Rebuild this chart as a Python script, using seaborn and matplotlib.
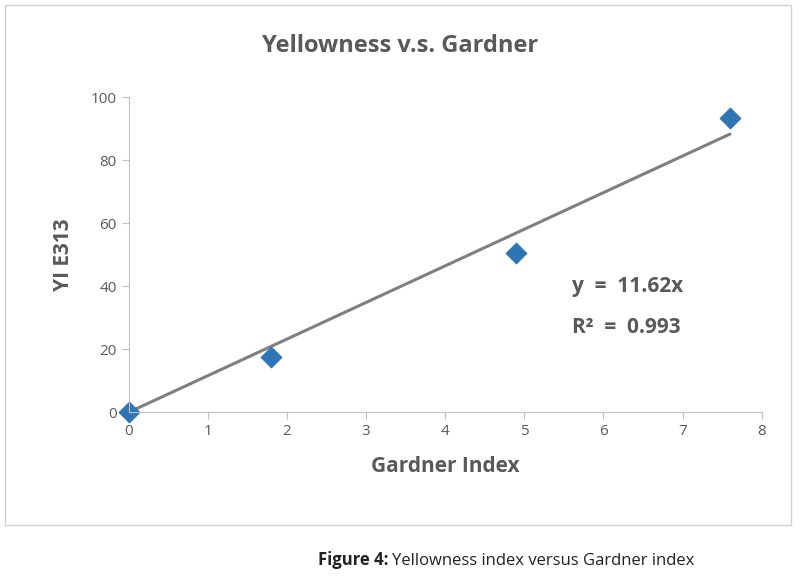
import matplotlib
matplotlib.use("Agg")
import matplotlib.pyplot as plt
import seaborn as sns
import numpy as np
from matplotlib.patches import Rectangle

gardner = [0, 1.8, 4.9, 7.6]
yi = [0, 17.5, 50.5, 93.5]
slope = 11.62
r2 = 0.993

sns.set_style("white")
plt.rcParams['font.family'] = ['Open Sans', 'DejaVu Sans']
grey = '#595959'

fig = plt.figure(figsize=(8, 5.79), dpi=100)
fig.patches.append(Rectangle((0.006, 0.093), 0.983, 0.898, transform=fig.transFigure,
                             fill=False, edgecolor='#d0d0d0', lw=1))
ax = fig.add_axes([0.161, 0.288, 0.791, 0.544])
xl = np.array([0, max(gardner)])
ax.plot(xl, slope * xl, color='#7f7f7f', lw=2.2, zorder=1)
sns.scatterplot(x=gardner, y=yi, marker='D', s=110, color='#2e75b6', edgecolor='#2e75b6', ax=ax, zorder=2, clip_on=False)
ax.set_xlim(0, 8)
ax.set_ylim(0, 100)
ax.set_xticks(range(0, 9))
ax.set_yticks(range(0, 101, 20))
for s in ['top', 'right']:
    ax.spines[s].set_visible(False)
for s in ['left', 'bottom']:
    ax.spines[s].set_color('#bfbfbf')
ax.tick_params(axis='both', colors=grey, labelsize=11, length=5, direction='out', color='#bfbfbf')
ax.tick_params(axis='x', bottom=True)
ax.tick_params(axis='y', left=True)
ax.set_xlabel('Gardner Index', fontsize=15, fontweight='bold', color=grey, labelpad=12)
ax.set_ylabel('YI E313', fontsize=15, fontweight='bold', color=grey, labelpad=12)
fig.text(0.5, 0.91, 'Yellowness v.s. Gardner', ha='center', fontsize=17, fontweight='bold', color=grey)
ax.text(5.6, 40, 'y  =  11.62x', fontsize=15, fontweight='bold', color=grey, va='center')
ax.text(5.6, 27, f'R²  =  {r2}', fontsize=15, fontweight='bold', color=grey, va='center')
fig.text(0.485, 0.025, 'Figure 4:', ha='right', fontsize=12, fontweight='bold', color='#222222')
fig.text(0.49, 0.025, 'Yellowness index versus Gardner index', ha='left', fontsize=12, color='#222222')
fig.savefig('out.png', dpi=100)
